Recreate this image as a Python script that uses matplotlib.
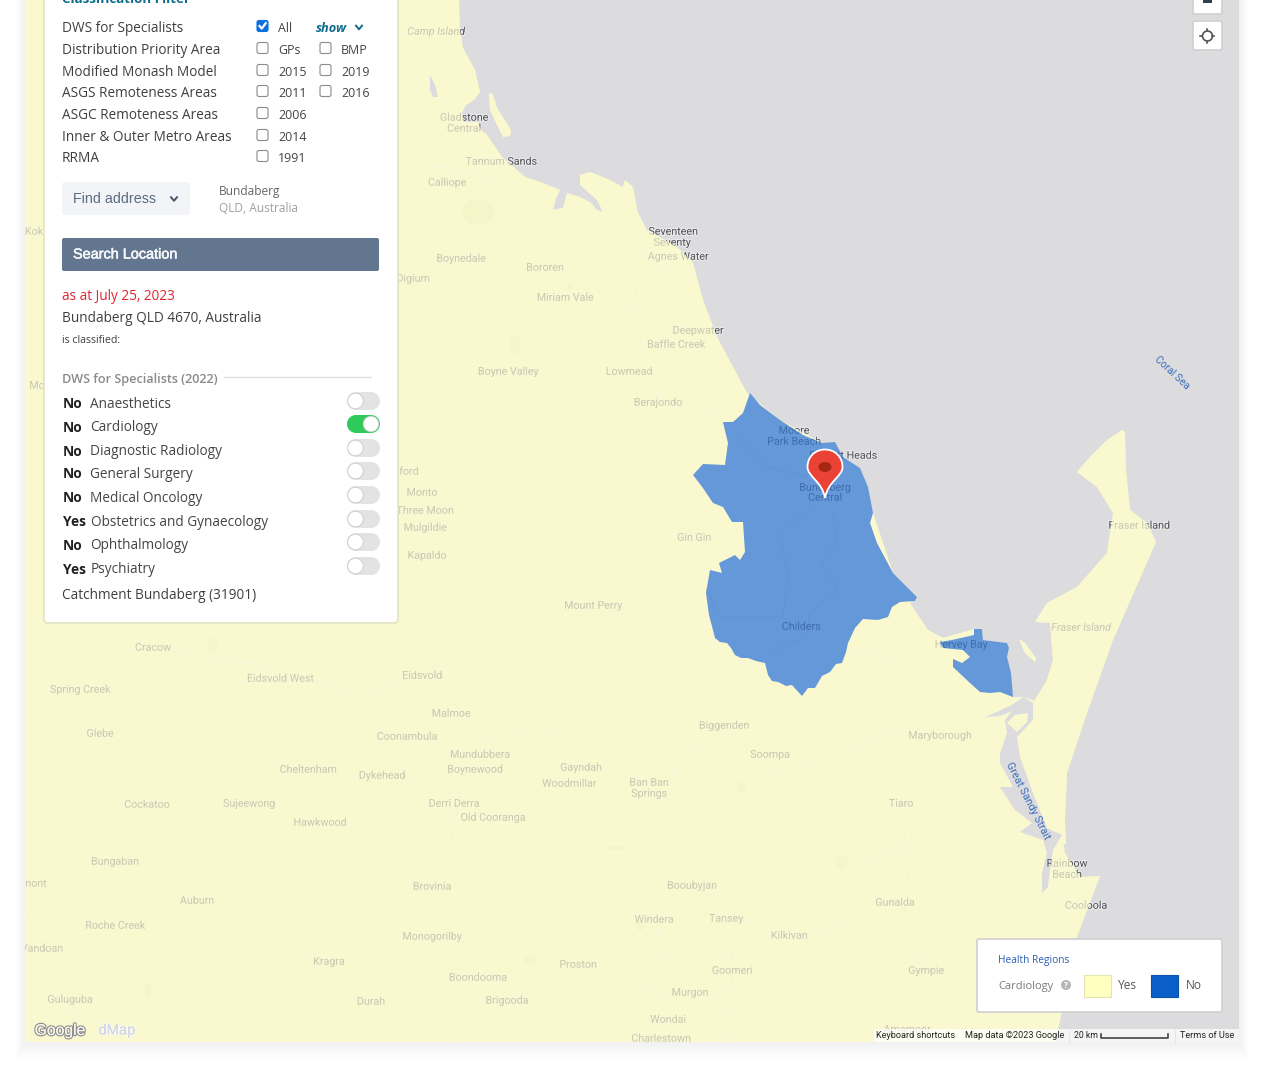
import matplotlib
matplotlib.use("Agg")
import matplotlib.pyplot as plt
import matplotlib.patheffects as pe
from matplotlib.patches import Polygon, Rectangle, FancyBboxPatch, Circle, Ellipse, PathPatch
from matplotlib.path import Path

# Coastline, north to south
coast = [(459, 0), (460, 30), (463, 48), (475, 70), (480, 92), (474, 100), (466, 105), (462, 113), (464, 122),
         (478, 122), (481, 130), (487, 135),
         (502, 157), (517, 170), (525, 177), (543, 183), (560, 190), (556, 198), (553, 210), (563, 208),
         (567, 193), (580, 197), (590, 202), (597, 210), (603, 212), (597, 200), (580, 185), (580, 175),
         (590, 172), (610, 180), (623, 187), (625, 180), (633, 187), (638, 213), (647, 230), (677, 247),
         (693, 263), (703, 300), (717, 337), (747, 393), (780, 420), (822, 443), (860, 468), (873, 513),
         (893, 573), (917, 597), (910, 603), (928, 630), (943, 638), (974, 629), (982, 629), (983, 640),
         (1007, 643), (1009, 648), (1007, 657), (1012, 697), (1023, 697), (1032, 700), (1045, 705),
         (1062, 835), (1065, 853), (1080, 877), (1100, 876), (1077, 937), (1058, 1030), (1055, 1042)]
fraser_island = [(1122, 430), (1125, 432), (1126, 470), (1130, 510), (1147, 523), (1156, 542), (1113, 640),
                 (1087, 713), (1067, 773), (1065, 820), (1066, 845), (1040, 830), (1033, 720), (1033, 703),
                 (1047, 680), (1053, 660), (1050, 623), (1035, 622), (1047, 603), (1077, 587), (1107, 553),
                 (1113, 513), (1097, 487), (1077, 472), (1090, 457), (1107, 440)]
sandy_strait = [(1023, 697), (1012, 705), (990, 715), (985, 717), (1000, 716), (1012, 711), (1005, 720), (1007, 733),
                (1000, 753), (1000, 763), (1013, 787), (1000, 787), (1015, 810), (1032, 823), (1020, 832),
                (1043, 840), (1047, 853), (1042, 873), (1042, 893), (1048, 887), (1050, 870), (1053, 850),
                (1062, 835), (1047, 828), (1033, 793), (1020, 757), (1017, 737), (1033, 720), (1033, 703)]
curtis_island = [(489, 93), (493, 94), (497, 108), (511, 130), (510, 136), (503, 137), (497, 125), (490, 110)]
harbour_1 = [(430, 75), (435, 85), (438, 97), (433, 97), (430, 90)]
strait_isle_1 = [(1007, 723), (1015, 715), (1028, 713), (1027, 722), (1017, 732)]
strait_isle_2 = [(1019, 639), (1025, 643), (1036, 658), (1035, 662), (1025, 653)]

# The two "No" catchments
bundaberg_area = [(750, 393), (760, 405), (780, 420), (803, 435), (822, 443), (835, 442), (843, 457), (860, 468),
                  (868, 487), (873, 513), (870, 523), (877, 543), (893, 573), (917, 597), (915, 601), (900, 602),
                  (892, 607), (888, 617), (878, 620), (863, 619), (855, 628), (848, 643), (846, 652), (842, 663),
                  (836, 664), (830, 672), (822, 676), (815, 688), (808, 688), (802, 696), (792, 685), (786, 686),
                  (778, 682), (772, 681), (768, 675), (765, 663), (756, 661), (748, 658), (741, 658), (735, 655),
                  (731, 648), (727, 643), (720, 642), (715, 638), (713, 630), (709, 615), (706, 593), (710, 570),
                  (722, 573), (719, 563), (735, 555), (740, 560), (745, 552), (743, 522), (732, 522), (723, 507),
                  (713, 503), (703, 488), (693, 475), (703, 464), (725, 465), (728, 443), (723, 422), (733, 422),
                  (743, 413)]
hervey_area = [(940, 642), (952, 640), (974, 635), (974, 629), (982, 629), (983, 640), (1007, 643), (1009, 648),
               (1007, 657), (1011, 673), (1013, 697), (1000, 692), (990, 693), (980, 692), (970, 683), (953, 667),
               (953, 659), (962, 663), (970, 657), (963, 650), (943, 648)]

# Faint roads on the land
roads = [
    [(600, 620), (633, 682), (628, 710), (637, 737), (622, 758), (593, 765), (573, 753), (563, 733), (530, 727),
     (500, 738), (480, 743), (475, 723), (440, 692), (427, 650)],
    [(622, 758), (660, 810), (660, 847), (657, 857), (670, 878), (710, 897), (730, 940), (733, 973), (727, 1040)],
    [(673, 780), (675, 753), (703, 748), (713, 733), (723, 703), (727, 670), (747, 660)],
    [(733, 733), (770, 773), (817, 762), (897, 730), (920, 727)],
    [(847, 648), (900, 662), (910, 687), (920, 703), (935, 725)],
    [(562, 967), (533, 993), (473, 1000), (463, 1040)],
    [(607, 967), (620, 980), (667, 998), (667, 1020)],
    [(657, 900), (658, 953), (673, 960), (683, 983)],
    [(903, 847), (867, 860), (837, 903), (840, 927), (787, 937), (753, 927), (747, 920)],
    [(170, 652), (260, 665), (363, 698), (403, 680)],
    [(27, 917), (60, 977), (73, 1003), (75, 1041)],
    [(437, 890), (473, 960)],
    [(463, 780), (450, 847), (430, 877)],
    [(907, 807), (903, 853), (910, 887), (900, 937), (920, 960), (932, 977), (950, 1027)],
    [(430, 165), (490, 178), (533, 227), (553, 290), (563, 330), (583, 367), (607, 420)],
    [(670, 263), (637, 287), (633, 310), (650, 373), (660, 400)],
    [(683, 403), (723, 417)],
    [(680, 510), (703, 557), (702, 575)],
]
blue_roads = [
    [(780, 533), (788, 577), (783, 617), (720, 617), (707, 590)],
    [(833, 513), (837, 540), (822, 563), (837, 590), (810, 613), (807, 637), (767, 653)],
    [(813, 507), (780, 533)],
    [(737, 437), (767, 467), (807, 477)],
]
# Small darker patches on the land: x, y, width, height
patch_x = [478, 515, 570, 615, 842, 742, 640, 213, 148, 530]
patch_y = [212, 345, 287, 848, 862, 787, 925, 645, 990, 960]
patch_w = [32, 10, 8, 16, 12, 10, 8, 10, 8, 12]
patch_h = [26, 20, 6, 5, 14, 10, 12, 14, 14, 12]

# Place labels on the map
place_names = ["Camp Island", "Gladstone", "Central", "Tannum Sands", "Calliope", "Kok", "Boynedale", "Bororen",
               "Digium", "Miriam Vale", "Seventeen", "Seventy", "Agnes Water", "Deepwater", "Baffle Creek",
               "Boyne Valley", "Lowmead", "Berajondo", "Mo", "ford", "Monto", "Three Moon", "Mulgildie", "Kapaldo",
               "Gin Gin", "Mount Perry", "Moore", "Park Beach", "Burnett Heads", "Bundaberg", "Central", "Childers",
               "Hervey Bay", "Fraser Island", "Fraser Island", "Cracow", "Spring Creek", "Glebe", "Eidsvold West",
               "Eidsvold", "Malmoe", "Coonambula", "Cheltenham", "Dykehead", "Mundubbera", "Boynewood", "Gayndah",
               "Woodmillar", "Ban Ban", "Springs", "Derri Derra", "Old Cooranga", "Cockatoo", "Sujeewong", "Hawkwood",
               "Biggenden", "Soompa", "Maryborough", "Tiaro", "Bungaban", "nont", "Brovinia", "Auburn", "Booubyjan",
               "Windera", "Tansey", "Gunalda", "Roche Creek", "Vandoan", "Monogorilby", "Kragra", "Boondooma",
               "Proston", "Goomeri", "Kilkivan", "Gympie", "Murgon", "Brigooda", "Durah", "Guluguba", "Wondai",
               "Charlestown", "Amamoor", "Rainbow", "Beach", "Cooloola"]
place_x = [436, 464, 464, 501, 447, 34, 461, 545, 413, 565, 673, 672, 678, 698, 676, 508, 629, 658, 37, 409, 422, 425,
           425, 427, 694, 593, 794, 794, 843, 825, 825, 801, 961, 1139, 1081, 153, 80, 100, 280, 422, 451, 407, 308,
           382, 480, 475, 581, 569, 649, 649, 454, 493, 147, 249, 320, 724, 770, 940, 901, 115, 36, 432, 197, 692,
           654, 726, 895, 115, 42, 432, 329, 478, 578, 732, 789, 926, 690, 507, 371, 70, 668, 661, 907, 1067, 1067, 1086]
place_y = [31, 117, 128, 161, 182, 231, 258, 267, 278, 297, 231, 242, 256, 330, 344, 371, 371, 402, 385, 471, 492, 510,
           527, 555, 537, 605, 430, 441, 455, 487, 497, 626, 644, 525, 627, 647, 689, 733, 678, 675, 713, 736, 769,
           775, 754, 769, 767, 783, 782, 793, 803, 817, 804, 803, 822, 725, 754, 735, 803, 861, 883, 886, 900, 885,
           919, 918, 902, 925, 948, 936, 961, 977, 964, 970, 935, 970, 992, 1000, 1001, 999, 1019, 1038, 1029, 863,
           874, 905]
italic_places = ["Camp Island"]

# Left hand panel
filter_names = ["DWS for Specialists", "Distribution Priority Area", "Modified Monash Model", "ASGS Remoteness Areas",
                "ASGC Remoteness Areas", "Inner & Outer Metro Areas", "RRMA"]
filter_y = [27, 49, 71, 92, 114, 136, 157]
filter_col1 = ["All", "GPs", "2015", "2011", "2006", "2014", "1991"]
filter_col2 = ["", "BMP", "2019", "2016", "", "", ""]
specialties = ["Anaesthetics", "Cardiology", "Diagnostic Radiology", "General Surgery", "Medical Oncology",
               "Obstetrics and Gynaecology", "Ophthalmology", "Psychiatry"]
dws_status = ["No", "No", "No", "No", "No", "Yes", "No", "Yes"]
toggle_on = [False, True, False, False, False, False, False, False]
row_y = [403, 426, 450, 473, 497, 521, 544, 568]

LAND = "#f9f8cf"
SEA = "#dcdcde"
BLUE = "#6498d9"
UI_FONT = "Open Sans"
MAP_FONT = "Roboto"

plt.rcParams["font.family"] = [UI_FONT, "DejaVu Sans"]

fig = plt.figure(figsize=(12.88, 10.74), dpi=100, facecolor="white")
ax = fig.add_axes([0, 0, 1, 1])
ax.set_xlim(0, 1288)
ax.set_ylim(1074, 0)
ax.axis("off")

MAP_L, MAP_R, MAP_B = 25, 1239, 1042
map_w = MAP_R - MAP_L

# soft shadow round the map
for i in range(1, 15):
    ax.add_patch(Rectangle((MAP_L - i * 0.7, -5), map_w + i * 1.4, MAP_B + 5 + i * 1.2,
                           fc="#000000", ec="none", alpha=0.0045, zorder=0))

map_rect = Rectangle((MAP_L, 0), map_w, MAP_B, fc=LAND, ec="none", zorder=1)
ax.add_patch(map_rect)

# roads and patches sit under the land tint so they come out faint
for x, y, w, h in zip(patch_x, patch_y, patch_w, patch_h):
    ax.add_patch(Ellipse((x, y), w, h, fc="#f0efc0", ec="none", zorder=1.5))
for road in roads:
    xs, ys = zip(*road)
    ax.plot(xs, ys, color="#ffffff", lw=1.4, zorder=1.6, solid_joinstyle="round")
    ax.plot(xs, ys, color="#e8e6b8", lw=0.5, zorder=1.7)

sea_pts = coast + [(MAP_R, MAP_B), (MAP_R, 0)]
ax.add_patch(Polygon(sea_pts, closed=True, fc=SEA, ec="none", zorder=2))
for pts in [fraser_island, curtis_island, strait_isle_2]:
    ax.add_patch(Polygon(pts, closed=True, fc=LAND, ec="none", zorder=2.5))

# labels go under a see-through land layer so they fade on land but stay dark over the sea
for name, x, y in zip(place_names, place_x, place_y):
    t = ax.text(x, y + 0.7, name, fontsize=7.7, family=MAP_FONT, color="#55565c", ha="center", va="center", zorder=3,
                clip_on=True,
                style="italic" if name in italic_places or (name == "Fraser Island" and x < 1100) else "normal",
                path_effects=[pe.withStroke(linewidth=1.4, foreground="#ffffff", alpha=0.45)])
    t.set_clip_path(map_rect)

land_pts = coast + [(MAP_L, MAP_B), (MAP_L, 0)]
for pts in [land_pts, fraser_island, curtis_island, strait_isle_2]:
    ax.add_patch(Polygon(pts, closed=True, fc=LAND, ec="none", alpha=0.72, zorder=4))

strait_patch = Polygon(sandy_strait, closed=True, fc=SEA, ec="none", zorder=6)
ax.add_patch(strait_patch)
ax.add_patch(Polygon(harbour_1, closed=True, fc=SEA, ec="none", zorder=6))
ax.add_patch(Polygon(strait_isle_1, closed=True, fc=LAND, ec="none", zorder=6))
ax.text(1028, 801, "Great Sandy Strait", fontsize=7.7, family=MAP_FONT, color="#3c6fbe", rotation=-63,
        ha="center", va="center", rotation_mode="anchor", zorder=7)
ax.text(1172, 373, "Coral Sea", fontsize=7.4, family=MAP_FONT, color="#3c6fbe", rotation=-43,
        ha="center", va="center", rotation_mode="anchor", zorder=7)


def clipped_labels(patch, color, z):
    # path effects make agg draw the glyphs as paths, which is what lets the clip path work
    for name, x, y in zip(place_names, place_x, place_y):
        t = ax.text(x, y + 0.7, name, fontsize=7.7, family=MAP_FONT, color=color, ha="center", va="center",
                    zorder=z, clip_on=True, path_effects=[pe.Normal()])
        t.set_clip_path(patch)


clipped_labels(strait_patch, "#55565c", 6.5)

# catchment fill, then the labels again in dark blue inside it
for pts in [bundaberg_area, hervey_area]:
    p = Polygon(pts, closed=True, fc=BLUE, ec="none", zorder=8)
    ax.add_patch(p)
    clipped_labels(p, "#3f6cab", 9)
for road in blue_roads:
    xs, ys = zip(*road)
    ax.plot(xs, ys, color="#5f94d6", lw=0.7, zorder=8.5)


def draw_pin(cx, cy, r, tip):
    verts = [(cx, tip), (cx - 3, cy + r * 0.8), (cx - r, cy + r * 0.55), (cx - r, cy),
             (cx - r, cy - r * 0.6), (cx - r * 0.55, cy - r), (cx, cy - r),
             (cx + r * 0.55, cy - r), (cx + r, cy - r * 0.6), (cx + r, cy),
             (cx + r, cy + r * 0.55), (cx + 3, cy + r * 0.8), (cx, tip)]
    codes = [Path.MOVETO] + [Path.CURVE4] * 12
    ax.add_patch(PathPatch(Path(verts, codes), fc="#ea4335", ec="white", lw=1.3, zorder=10))
    ax.add_patch(Ellipse((cx, cy), 13, 10, fc="#a52714", ec="none", zorder=11))


draw_pin(825, 467, 17.5, 498)

# map buttons top right
for y0, h in [(-6, 20), (21, 29)]:
    ax.add_patch(FancyBboxPatch((1193, y0), 29, h, boxstyle="round,pad=0,rounding_size=2", fc="white",
                                ec="#cfcfcf", lw=1.2, zorder=12))
ax.add_patch(Rectangle((1203, 0), 9, 3, fc="#2e4050", ec="none", zorder=13))
ax.add_patch(Circle((1207.5, 36), 5, fc="none", ec="#555555", lw=1.2, zorder=13))
for dx in [-7, 5]:
    ax.plot([1207.5 + dx, 1207.5 + dx + 2], [36, 36], color="#555555", lw=1.2, zorder=13)
    ax.plot([1207.5, 1207.5], [36 + dx, 36 + dx + 2], color="#555555", lw=1.2, zorder=13)

# google marks
ax.text(60, 1030.5, "Google", fontsize=11.3, family="Liberation Sans", color="#f6f6ee", ha="center", va="center",
        zorder=6, path_effects=[pe.withStroke(linewidth=1.8, foreground="#8e8e8e"), pe.Normal()])
ax.text(117, 1030.5, "dMap", fontsize=10.6, family="Liberation Sans", color="#d2d6e2", ha="center", va="center",
        zorder=6, path_effects=[pe.withStroke(linewidth=1.6, foreground="#fbfbf0"), pe.Normal()])

# attribution strip
ax.add_patch(Rectangle((874, 1029), MAP_R - 874, 13, fc="white", ec="none", alpha=0.72, zorder=12))
for x, word, size in [(876, "Keyboard shortcuts", 6.6), (965, "Map data ©2023 Google", 6.6), (1074, "20 km", 6.2),
                      (1180, "Terms of Use", 6.6)]:
    ax.text(x, 1036, word, fontsize=size, family=MAP_FONT, color="#222222", ha="left", va="center", zorder=13)
ax.plot([1101.5, 1101.5, 1168.5, 1168.5], [1034, 1037.5, 1037.5, 1034], color="#444444", lw=1.2, zorder=13)
for x in [1069, 1175]:
    ax.plot([x, x], [1030, 1042], color="#e6e6e6", lw=0.8, zorder=13)


def ui_text(x, y, s, **kw):
    # Open Sans sits a little high with va=center
    kw.setdefault("va", "center")
    kw.setdefault("zorder", 21)
    return ax.text(x, y + 1.5, s, **kw)


# legend box
ax.add_patch(FancyBboxPatch((977, 939), 245, 73, boxstyle="round,pad=0,rounding_size=2", fc="white", ec="#cfcfcf",
                            lw=1.2, zorder=14))
ui_text(998, 958.5, "Health Regions", fontsize=7.3, color="#2a5db0")
ui_text(998, 984.5, "Cardiology", fontsize=8, color="#7b7b7b")
ax.add_patch(Circle((1066, 985), 5, fc="#b5b5b5", ec="none", zorder=21))
ax.text(1066, 985, "?", fontsize=6, color="white", weight="bold", ha="center", va="center", zorder=22)
ax.add_patch(Rectangle((1084, 975), 27, 22, fc="#ffffc0", ec="#e4e4b2", lw=0.8, zorder=15))
ax.add_patch(Rectangle((1151, 975), 27, 22, fc="#0a60c8", ec="#0a52aa", lw=0.8, zorder=15))
ui_text(1118, 984, "Yes", fontsize=8.6, color="#555555")
ui_text(1186, 984, "No", fontsize=8.6, color="#555555")

# white panel
ax.add_patch(FancyBboxPatch((44, -10), 354, 633, boxstyle="round,pad=0,rounding_size=4", fc="white", ec="#e2e3c4",
                            lw=1.2, zorder=20))
ax.text(62, 3, "Classification Filter", fontsize=9.6, weight="bold", color="#0d6c8e", va="baseline", zorder=21)


def check_box(x, y, checked=False):
    if checked:
        ax.add_patch(FancyBboxPatch((x - 5.5, y - 5.5), 11, 11, boxstyle="round,pad=0,rounding_size=2",
                                    fc="#0b6fe0", ec="#0b6fe0", lw=0.8, zorder=21))
        ax.plot([x - 3, x - 0.8, x + 3.2], [y, y + 2.6, y - 2.8], color="white", lw=1.6, zorder=22)
    else:
        ax.add_patch(FancyBboxPatch((x - 5.5, y - 5.5), 11, 11, boxstyle="round,pad=0,rounding_size=2",
                                    fc="white", ec="#8b8b8b", lw=0.8, zorder=21))


def chevron(x, y, col, size=3):
    ax.plot([x - size, x, x + size], [y - size * 0.6, y + size * 0.6, y - size * 0.6], color=col, lw=1.4, zorder=22)


for i, y in enumerate(filter_y):
    ui_text(62, y, filter_names[i], fontsize=9.85, color="#3f3f3f")
    check_box(262.5, y - 1, checked=i == 0)
    ui_text(278, y, filter_col1[i], fontsize=8.9, color="#444444")
    if filter_col2[i]:
        check_box(325.5, y - 1)
        ui_text(341, y, filter_col2[i], fontsize=8.9, color="#444444")
ui_text(316, 27, "show", fontsize=9.2, weight="bold", style="italic", color="#0d6c8e")
chevron(359, 27.5, "#0d6c8e")

ax.add_patch(FancyBboxPatch((62, 182), 128, 33, boxstyle="round,pad=0,rounding_size=3", fc="#f2f4f7", ec="none",
                            zorder=21))
ax.text(73, 199, "Find address", fontsize=10.3, family="Liberation Sans", color="#5c6b82", va="center", zorder=22)
chevron(174, 199, "#4a5568")
ui_text(219, 190.5, "Bundaberg", fontsize=8.6, color="#666666")
ui_text(219, 207.5, "QLD, Australia", fontsize=8.6, color="#a0a0a0")
ax.add_patch(FancyBboxPatch((62, 238), 317, 33, boxstyle="round,pad=0,rounding_size=2", fc="#62778f", ec="none",
                            zorder=21))
ax.text(73, 254.5, "Search Location", fontsize=10.4, family="Liberation Sans", color="#f7f8fa", va="center", zorder=22,
        path_effects=[pe.withStroke(linewidth=0.4, foreground="#f7f8fa")])
ui_text(62, 295, "as at July 25, 2023", fontsize=9.85, color="#e02530")
ui_text(62, 317, "Bundaberg QLD 4670, Australia", fontsize=9.85, color="#3f3f3f")
ui_text(62, 339, "is classified:", fontsize=7.7, color="#3f3f3f")
ui_text(62, 378, "DWS for Specialists (2022)", fontsize=9.1, weight="semibold", color="#8a8a8a")
ax.plot([224, 371], [376.5, 376.5], color="#dddddd", lw=0.9, zorder=21)

for i, y in enumerate(row_y):
    ui_text(63, y, dws_status[i], fontsize=9.9, weight="bold", color="#222222")
    name_x = 91 if dws_status[i] == "Yes" else 90
    ui_text(name_x, y, specialties[i], fontsize=9.85, color="#444444")
    ty = y - 2
    on = toggle_on[i]
    track = "#2ecb5b" if on else "#e3e3e3"
    ax.add_patch(Rectangle((356, ty - 9), 15, 18, fc=track, ec="none", zorder=21))
    for cx in [356, 371]:
        ax.add_patch(Circle((cx, ty), 9, fc=track, ec="none", zorder=21))
    ax.add_patch(Circle((371 if on else 355.5, ty), 7.8, fc="white", ec="#c9c9c9", lw=0.6, zorder=22))
ui_text(62, 594, "Catchment Bundaberg (31901)", fontsize=9.85, color="#3f3f3f")

fig.savefig("out.png", dpi=100, facecolor="white")
